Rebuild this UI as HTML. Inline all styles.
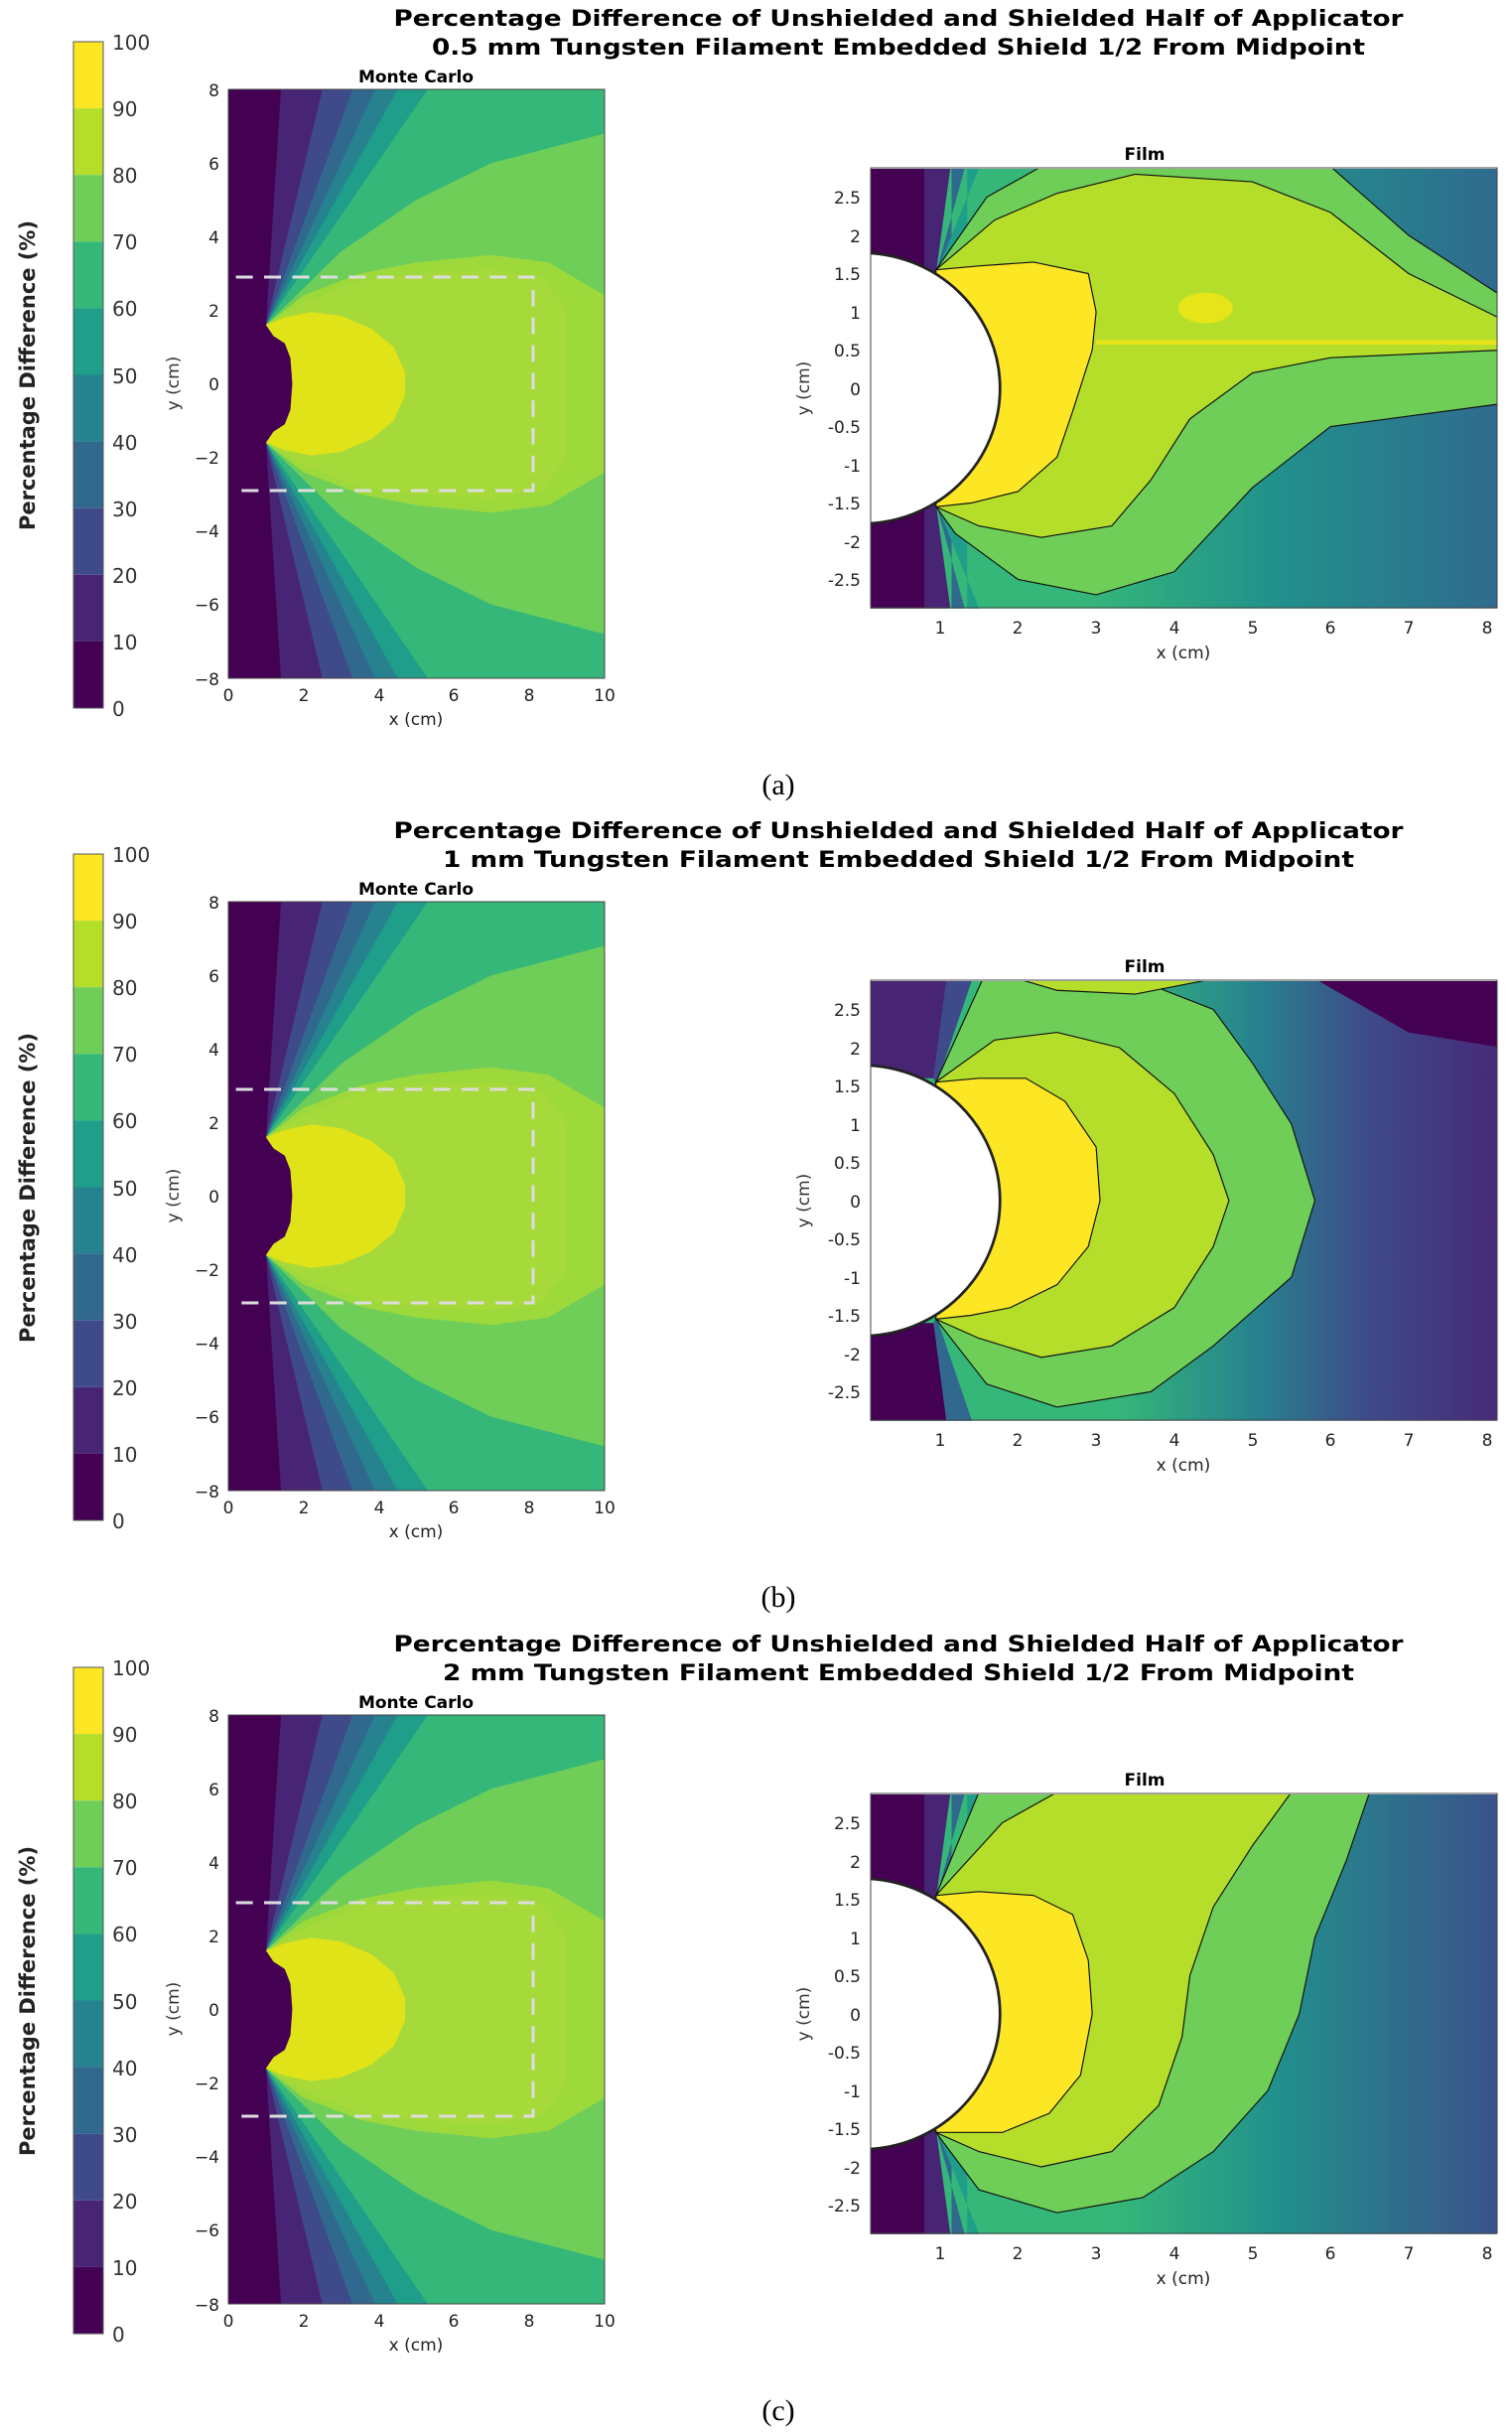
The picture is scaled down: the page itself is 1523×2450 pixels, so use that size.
<!DOCTYPE html>
<html><head><meta charset="utf-8"><style>
html,body{margin:0;padding:0;background:#fff}
svg{display:block}
text{font-family:"DejaVu Sans","Liberation Sans",sans-serif;fill:#222}
.t{font-weight:bold;font-size:22px;fill:#000}
.st{font-weight:bold;font-size:17px;fill:#000}
.tk{font-size:17px;fill:#333}
.cb{font-size:20px;fill:#333}
.cap{font-family:"Liberation Serif",serif;font-size:30px;fill:#000}
</style></head><body>
<svg width="1523" height="2450" viewBox="0 0 1523 2450" xmlns="http://www.w3.org/2000/svg">
<defs>
<clipPath id="mcclip"><rect x="0" y="-8" width="10" height="16"/></clipPath>
<clipPath id="fclip"><rect x="0.11" y="-2.88" width="8.02" height="5.75"/></clipPath>
<g id="mc" clip-path="url(#mcclip)">
<rect x="0" y="-8" width="10" height="16" fill="#440154"/>
<polygon fill="#482475" points="1,1.6 1.4,8 10,8 10,-8 1.4,-8 1,-1.6"/>
<polygon fill="#3e4a89" points="1,1.6 2.5,8 10,8 10,-8 2.5,-8 1,-1.6"/>
<polygon fill="#31688e" points="1,1.6 3.3,8 10,8 10,-8 3.3,-8 1,-1.6"/>
<polygon fill="#26828e" points="1,1.6 3.9,8 10,8 10,-8 3.9,-8 1,-1.6"/>
<polygon fill="#1f9e89" points="1,1.6 4.5,8 10,8 10,-8 4.5,-8 1,-1.6"/>
<polygon fill="#35b779" points="1,1.6 5.3,8 10,8 10,-8 5.3,-8 1,-1.6"/>
<polygon fill="#6ece58" points="1,1.6 3,3.6 5,5 7,6 10,6.8 10,-6.8 7,-6 5,-5 3,-3.6 1,-1.6"/>
<polygon fill="#9ed93c" points="1,1.6 2,2.4 3.5,3 5,3.3 7,3.5 8.5,3.3 10,2.4 10,-2.4 8.5,-3.3 7,-3.5 5,-3.3 3.5,-3 2,-2.4 1,-1.6"/>
<polygon fill="#a6d93a" points="1,1.6 2,2.2 3.5,2.8 5,3 7,3.1 8.3,2.9 9,2 9,-2 8.3,-2.9 7,-3.1 5,-3 3.5,-2.8 2,-2.2 1,-1.6"/>
<polygon fill="#dfe318" points="1,1.6 1.5,1.8 2.2,1.95 3,1.85 3.8,1.5 4.4,1 4.7,0.3 4.7,-0.3 4.4,-1 3.8,-1.5 3,-1.85 2.2,-1.95 1.5,-1.8 1,-1.6"/>
<polygon fill="#440154" points="0,1.6 1,1.6 1.2,1.3 1.5,1.1 1.65,0.7 1.7,0 1.65,-0.7 1.5,-1.1 1.2,-1.3 1,-1.6 0,-1.6"/>
<polyline fill="none" stroke="#ddd" stroke-width="0.08" stroke-dasharray="0.45,0.3" points="0.2,2.9 8.1,2.9 8.1,-2.9 0.2,-2.9"/>
</g>
<linearGradient id="ga" gradientUnits="userSpaceOnUse" x1="0" y1="0" x2="8.13" y2="0">
<stop offset="0.35" stop-color="#35b779"/><stop offset="0.65" stop-color="#21918c"/><stop offset="1" stop-color="#2f6b8e"/></linearGradient>
<linearGradient id="gb" gradientUnits="userSpaceOnUse" x1="0" y1="0" x2="8.13" y2="0">
<stop offset="0.4" stop-color="#35b779"/><stop offset="0.62" stop-color="#26828e"/><stop offset="0.8" stop-color="#3e4a89"/><stop offset="1" stop-color="#472a7a"/></linearGradient>
<linearGradient id="gc" gradientUnits="userSpaceOnUse" x1="0" y1="0" x2="8.13" y2="0">
<stop offset="0.4" stop-color="#35b779"/><stop offset="0.65" stop-color="#21918c"/><stop offset="1" stop-color="#3b528b"/></linearGradient>
<g id="fleft">
<polygon fill="#440154" points="0,3 0.8,3 0.92,1.5 0.92,-1.5 0.8,-3 0,-3"/>
<polygon fill="#482475" points="0.8,3 1.15,3 0.95,1.5 0.95,-1.5 1.15,-3 0.8,-3"/>
<polygon fill="#31688e" points="1.15,3 1.35,3 0.95,1.5 0.95,-1.5 1.35,-3 1.15,-3"/>
<polygon fill="#1f9e89" points="1.35,3 1.55,3 0.95,1.5 0.95,-1.5 1.55,-3 1.35,-3"/>
</g>
</defs>

<!-- ===== PANEL A ===== -->
<g>
<text class="t" x="905" y="26" text-anchor="middle" textLength="1017" lengthAdjust="spacingAndGlyphs">Percentage Difference of Unshielded and Shielded Half of Applicator</text>
<text class="t" x="905" y="55" text-anchor="middle" textLength="940" lengthAdjust="spacingAndGlyphs">0.5 mm Tungsten Filament Embedded Shield 1/2 From Midpoint</text>
<!-- colorbar -->
<g>
<rect x="74" y="42" width="30" height="67.1" fill="#fde725"/><rect x="74" y="109.1" width="30" height="67.1" fill="#b5de2b"/><rect x="74" y="176.2" width="30" height="67.1" fill="#6ece58"/><rect x="74" y="243.3" width="30" height="67.1" fill="#35b779"/><rect x="74" y="310.4" width="30" height="67.1" fill="#1f9e89"/><rect x="74" y="377.5" width="30" height="67.1" fill="#26828e"/><rect x="74" y="444.6" width="30" height="67.1" fill="#31688e"/><rect x="74" y="511.7" width="30" height="67.1" fill="#3e4a89"/><rect x="74" y="578.8" width="30" height="67.1" fill="#482475"/><rect x="74" y="645.9" width="30" height="67.1" fill="#440154"/>
<rect x="74" y="42" width="30" height="671" fill="none" stroke="#555" stroke-width="1"/>
<text class="cb" x="113" y="50">100</text><text class="cb" x="113" y="117">90</text><text class="cb" x="113" y="184">80</text><text class="cb" x="113" y="251">70</text><text class="cb" x="113" y="318">60</text><text class="cb" x="113" y="386">50</text><text class="cb" x="113" y="453">40</text><text class="cb" x="113" y="520">30</text><text class="cb" x="113" y="587">20</text><text class="cb" x="113" y="654">10</text><text class="cb" x="113" y="721">0</text>
<text x="35" y="378" transform="rotate(-90 35 378)" text-anchor="middle" style="font-weight:bold;font-size:21px;fill:#222">Percentage Difference (%)</text>
</g>
<!-- MC -->
<text class="st" x="419" y="83" text-anchor="middle">Monte Carlo</text>
<use href="#mc" transform="translate(230,386.5) scale(37.9,-37.06)"/>
<rect x="230" y="90" width="379" height="593" fill="none" stroke="#444" stroke-width="1"/>
<g class="tk" text-anchor="end">
<text x="221" y="97">8</text><text x="221" y="171">6</text><text x="221" y="245">4</text><text x="221" y="319">2</text><text x="221" y="393">0</text><text x="221" y="467">−2</text><text x="221" y="541">−4</text><text x="221" y="615">−6</text><text x="221" y="690">−8</text>
</g>
<g class="tk" text-anchor="middle">
<text x="230" y="706">0</text><text x="306" y="706">2</text><text x="382" y="706">4</text><text x="457" y="706">6</text><text x="533" y="706">8</text><text x="609" y="706">10</text>
<text x="419" y="730">x (cm)</text>
</g>
<text class="tk" x="180" y="386" transform="rotate(-90 180 386)" text-anchor="middle">y (cm)</text>
<!-- Film -->
<text class="st" x="1153" y="161" text-anchor="middle">Film</text>
<g transform="translate(868,391) scale(78.7,-77)" clip-path="url(#fclip)">
<rect x="0" y="-3" width="8.2" height="6" fill="url(#ga)"/>
<use href="#fleft"/>
<polygon fill="#6ece58" stroke="#111" stroke-width="0.015" points="0.95,1.55 1.6,2.5 2.3,2.9 6,2.9 7,2 8.2,1.2 8.2,-0.2 6,-0.5 5,-1.3 4,-2.4 3,-2.7 2,-2.5 1.2,-1.9 0.95,-1.55"/>
<polygon fill="#b5de2b" stroke="#111" stroke-width="0.015" points="0.95,1.55 1.7,2.2 2.5,2.55 3.5,2.8 5,2.7 6,2.3 7,1.5 8.2,0.9 8.2,0.5 6,0.4 5,0.2 4.2,-0.4 3.7,-1.2 3.2,-1.8 2.3,-1.95 1.5,-1.8 0.95,-1.55"/>
<polygon fill="#fde725" stroke="#111" stroke-width="0.015" points="0.95,1.55 1.5,1.6 2.2,1.65 2.9,1.5 3,1 2.95,0.5 2.7,-0.3 2.5,-0.9 2,-1.35 1.4,-1.5 0.95,-1.55"/>
<rect x="3" y="0.57" width="5.2" height="0.06" fill="#e7e419"/>
<ellipse cx="4.4" cy="1.05" rx="0.35" ry="0.2" fill="#e7e419"/>
<circle cx="0" cy="0" r="1.77" fill="#fff" stroke="#222" stroke-width="0.035"/>
</g>
<rect x="877" y="169" width="631" height="443" fill="none" stroke="#444" stroke-width="1"/>
<g class="tk" text-anchor="end">
<text x="867" y="205">2.5</text><text x="867" y="244">2</text><text x="867" y="282">1.5</text><text x="867" y="321">1</text><text x="867" y="359">0.5</text><text x="867" y="398">0</text><text x="867" y="436">-0.5</text><text x="867" y="475">-1</text><text x="867" y="513">-1.5</text><text x="867" y="552">-2</text><text x="867" y="590">-2.5</text>
</g>
<g class="tk" text-anchor="middle">
<text x="947" y="638">1</text><text x="1025" y="638">2</text><text x="1104" y="638">3</text><text x="1183" y="638">4</text><text x="1262" y="638">5</text><text x="1340" y="638">6</text><text x="1419" y="638">7</text><text x="1498" y="638">8</text>
<text x="1192" y="663">x (cm)</text>
</g>
<text class="tk" x="815" y="391" transform="rotate(-90 815 391)" text-anchor="middle">y (cm)</text>
<text class="cap" x="784" y="800" text-anchor="middle">(a)</text>
</g>

<!-- ===== PANEL B ===== -->
<g transform="translate(0,818)">
<text class="t" x="905" y="26" text-anchor="middle" textLength="1017" lengthAdjust="spacingAndGlyphs">Percentage Difference of Unshielded and Shielded Half of Applicator</text>
<text class="t" x="905" y="55" text-anchor="middle" textLength="918" lengthAdjust="spacingAndGlyphs">1 mm Tungsten Filament Embedded Shield 1/2 From Midpoint</text>
<g>
<rect x="74" y="42" width="30" height="67.1" fill="#fde725"/><rect x="74" y="109.1" width="30" height="67.1" fill="#b5de2b"/><rect x="74" y="176.2" width="30" height="67.1" fill="#6ece58"/><rect x="74" y="243.3" width="30" height="67.1" fill="#35b779"/><rect x="74" y="310.4" width="30" height="67.1" fill="#1f9e89"/><rect x="74" y="377.5" width="30" height="67.1" fill="#26828e"/><rect x="74" y="444.6" width="30" height="67.1" fill="#31688e"/><rect x="74" y="511.7" width="30" height="67.1" fill="#3e4a89"/><rect x="74" y="578.8" width="30" height="67.1" fill="#482475"/><rect x="74" y="645.9" width="30" height="67.1" fill="#440154"/>
<rect x="74" y="42" width="30" height="671" fill="none" stroke="#555" stroke-width="1"/>
<text class="cb" x="113" y="50">100</text><text class="cb" x="113" y="117">90</text><text class="cb" x="113" y="184">80</text><text class="cb" x="113" y="251">70</text><text class="cb" x="113" y="318">60</text><text class="cb" x="113" y="386">50</text><text class="cb" x="113" y="453">40</text><text class="cb" x="113" y="520">30</text><text class="cb" x="113" y="587">20</text><text class="cb" x="113" y="654">10</text><text class="cb" x="113" y="721">0</text>
<text x="35" y="378" transform="rotate(-90 35 378)" text-anchor="middle" style="font-weight:bold;font-size:21px;fill:#222">Percentage Difference (%)</text>
</g>
<text class="st" x="419" y="83" text-anchor="middle">Monte Carlo</text>
<use href="#mc" transform="translate(230,386.5) scale(37.9,-37.06)"/>
<rect x="230" y="90" width="379" height="593" fill="none" stroke="#444" stroke-width="1"/>
<g class="tk" text-anchor="end">
<text x="221" y="97">8</text><text x="221" y="171">6</text><text x="221" y="245">4</text><text x="221" y="319">2</text><text x="221" y="393">0</text><text x="221" y="467">−2</text><text x="221" y="541">−4</text><text x="221" y="615">−6</text><text x="221" y="690">−8</text>
</g>
<g class="tk" text-anchor="middle">
<text x="230" y="706">0</text><text x="306" y="706">2</text><text x="382" y="706">4</text><text x="457" y="706">6</text><text x="533" y="706">8</text><text x="609" y="706">10</text>
<text x="419" y="730">x (cm)</text>
</g>
<text class="tk" x="180" y="386" transform="rotate(-90 180 386)" text-anchor="middle">y (cm)</text>
<text class="st" x="1153" y="161" text-anchor="middle">Film</text>
<g transform="translate(868,391) scale(78.7,-77)" clip-path="url(#fclip)">
<rect x="0" y="-3" width="8.2" height="6" fill="url(#gb)"/>
<polygon fill="#440154" points="5.8,2.9 8.2,2.9 8.2,2 7,2.2"/>
<polygon fill="#482475" points="0,3 1.1,3 0.92,1.6 0,1.6"/>
<polygon fill="#440154" points="0,-1.6 0.92,-1.6 1.1,-3 0,-3"/>
<polygon fill="#3e4a89" points="1.1,3 1.45,3 0.95,1.5 0.92,1.6"/>
<polygon fill="#31688e" points="0.92,-1.6 0.95,-1.5 1.45,-3 1.1,-3"/>
<polygon fill="#6ece58" stroke="#111" stroke-width="0.015" points="0.95,1.55 1.55,2.9 3.5,2.9 4.5,2.5 5,1.8 5.5,1 5.8,0 5.5,-1 4.5,-1.9 3.7,-2.5 2.5,-2.7 1.6,-2.4 0.95,-1.55"/>
<polygon fill="#b5de2b" stroke="#111" stroke-width="0.015" points="2,2.9 2.5,2.75 3.5,2.7 4.5,2.9"/>
<polygon fill="#b5de2b" stroke="#111" stroke-width="0.015" points="0.95,1.55 1.7,2.1 2.5,2.2 3.3,2 4,1.4 4.5,0.6 4.7,0 4.5,-0.6 4,-1.4 3.2,-1.9 2.3,-2.05 1.5,-1.8 0.95,-1.55"/>
<polygon fill="#fde725" stroke="#111" stroke-width="0.015" points="0.95,1.55 1.5,1.6 2.1,1.6 2.6,1.3 3,0.7 3.05,0 2.9,-0.6 2.5,-1.1 1.9,-1.4 1.4,-1.5 0.95,-1.55"/>
<circle cx="0" cy="0" r="1.77" fill="#fff" stroke="#222" stroke-width="0.035"/>
</g>
<rect x="877" y="169" width="631" height="443" fill="none" stroke="#444" stroke-width="1"/>
<g class="tk" text-anchor="end">
<text x="867" y="205">2.5</text><text x="867" y="244">2</text><text x="867" y="282">1.5</text><text x="867" y="321">1</text><text x="867" y="359">0.5</text><text x="867" y="398">0</text><text x="867" y="436">-0.5</text><text x="867" y="475">-1</text><text x="867" y="513">-1.5</text><text x="867" y="552">-2</text><text x="867" y="590">-2.5</text>
</g>
<g class="tk" text-anchor="middle">
<text x="947" y="638">1</text><text x="1025" y="638">2</text><text x="1104" y="638">3</text><text x="1183" y="638">4</text><text x="1262" y="638">5</text><text x="1340" y="638">6</text><text x="1419" y="638">7</text><text x="1498" y="638">8</text>
<text x="1192" y="663">x (cm)</text>
</g>
<text class="tk" x="815" y="391" transform="rotate(-90 815 391)" text-anchor="middle">y (cm)</text>
<text class="cap" x="784" y="800" text-anchor="middle">(b)</text>
</g>

<!-- ===== PANEL C ===== -->
<g transform="translate(0,1637)">
<text class="t" x="905" y="26" text-anchor="middle" textLength="1017" lengthAdjust="spacingAndGlyphs">Percentage Difference of Unshielded and Shielded Half of Applicator</text>
<text class="t" x="905" y="55" text-anchor="middle" textLength="918" lengthAdjust="spacingAndGlyphs">2 mm Tungsten Filament Embedded Shield 1/2 From Midpoint</text>
<g>
<rect x="74" y="42" width="30" height="67.1" fill="#fde725"/><rect x="74" y="109.1" width="30" height="67.1" fill="#b5de2b"/><rect x="74" y="176.2" width="30" height="67.1" fill="#6ece58"/><rect x="74" y="243.3" width="30" height="67.1" fill="#35b779"/><rect x="74" y="310.4" width="30" height="67.1" fill="#1f9e89"/><rect x="74" y="377.5" width="30" height="67.1" fill="#26828e"/><rect x="74" y="444.6" width="30" height="67.1" fill="#31688e"/><rect x="74" y="511.7" width="30" height="67.1" fill="#3e4a89"/><rect x="74" y="578.8" width="30" height="67.1" fill="#482475"/><rect x="74" y="645.9" width="30" height="67.1" fill="#440154"/>
<rect x="74" y="42" width="30" height="671" fill="none" stroke="#555" stroke-width="1"/>
<text class="cb" x="113" y="50">100</text><text class="cb" x="113" y="117">90</text><text class="cb" x="113" y="184">80</text><text class="cb" x="113" y="251">70</text><text class="cb" x="113" y="318">60</text><text class="cb" x="113" y="386">50</text><text class="cb" x="113" y="453">40</text><text class="cb" x="113" y="520">30</text><text class="cb" x="113" y="587">20</text><text class="cb" x="113" y="654">10</text><text class="cb" x="113" y="721">0</text>
<text x="35" y="378" transform="rotate(-90 35 378)" text-anchor="middle" style="font-weight:bold;font-size:21px;fill:#222">Percentage Difference (%)</text>
</g>
<text class="st" x="419" y="83" text-anchor="middle">Monte Carlo</text>
<use href="#mc" transform="translate(230,386.5) scale(37.9,-37.06)"/>
<rect x="230" y="90" width="379" height="593" fill="none" stroke="#444" stroke-width="1"/>
<g class="tk" text-anchor="end">
<text x="221" y="97">8</text><text x="221" y="171">6</text><text x="221" y="245">4</text><text x="221" y="319">2</text><text x="221" y="393">0</text><text x="221" y="467">−2</text><text x="221" y="541">−4</text><text x="221" y="615">−6</text><text x="221" y="690">−8</text>
</g>
<g class="tk" text-anchor="middle">
<text x="230" y="706">0</text><text x="306" y="706">2</text><text x="382" y="706">4</text><text x="457" y="706">6</text><text x="533" y="706">8</text><text x="609" y="706">10</text>
<text x="419" y="730">x (cm)</text>
</g>
<text class="tk" x="180" y="386" transform="rotate(-90 180 386)" text-anchor="middle">y (cm)</text>
<text class="st" x="1153" y="161" text-anchor="middle">Film</text>
<g transform="translate(868,391) scale(78.7,-77)" clip-path="url(#fclip)">
<rect x="0" y="-3" width="8.2" height="6" fill="url(#gc)"/>
<use href="#fleft"/>
<polygon fill="#6ece58" stroke="#111" stroke-width="0.015" points="0.95,1.55 1.5,2.9 6.5,2.9 6.2,2 5.8,1 5.6,0 5.2,-1 4.5,-1.8 3.6,-2.4 2.5,-2.6 1.5,-2.3 0.95,-1.55"/>
<polygon fill="#b5de2b" stroke="#111" stroke-width="0.015" points="0.95,1.55 1.8,2.5 2.5,2.9 5.5,2.9 5,2.2 4.5,1.4 4.2,0.5 4.1,-0.3 3.8,-1.2 3.2,-1.8 2.3,-2 1.5,-1.8 0.95,-1.55"/>
<polygon fill="#fde725" stroke="#111" stroke-width="0.015" points="0.95,1.55 1.5,1.6 2.2,1.55 2.7,1.3 2.9,0.7 2.95,0 2.8,-0.8 2.4,-1.3 1.8,-1.55 1.3,-1.55 0.95,-1.55"/>
<circle cx="0" cy="0" r="1.77" fill="#fff" stroke="#222" stroke-width="0.035"/>
</g>
<rect x="877" y="169" width="631" height="443" fill="none" stroke="#444" stroke-width="1"/>
<g class="tk" text-anchor="end">
<text x="867" y="205">2.5</text><text x="867" y="244">2</text><text x="867" y="282">1.5</text><text x="867" y="321">1</text><text x="867" y="359">0.5</text><text x="867" y="398">0</text><text x="867" y="436">-0.5</text><text x="867" y="475">-1</text><text x="867" y="513">-1.5</text><text x="867" y="552">-2</text><text x="867" y="590">-2.5</text>
</g>
<g class="tk" text-anchor="middle">
<text x="947" y="638">1</text><text x="1025" y="638">2</text><text x="1104" y="638">3</text><text x="1183" y="638">4</text><text x="1262" y="638">5</text><text x="1340" y="638">6</text><text x="1419" y="638">7</text><text x="1498" y="638">8</text>
<text x="1192" y="663">x (cm)</text>
</g>
<text class="tk" x="815" y="391" transform="rotate(-90 815 391)" text-anchor="middle">y (cm)</text>
<text class="cap" x="784" y="800" text-anchor="middle">(c)</text>
</g>
</svg>
</body></html>
